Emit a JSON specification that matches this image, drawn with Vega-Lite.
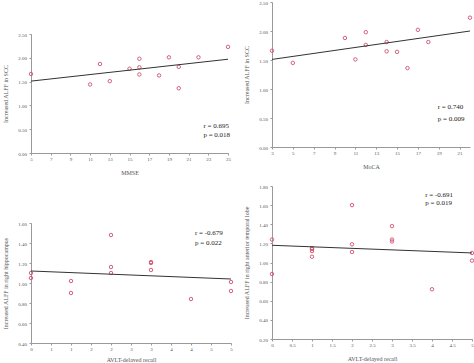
{
  "$schema": "https://vega.github.io/schema/vega-lite/v6.json",
  "padding": {"left": 2, "top": 0, "right": 0, "bottom": 0},
  "background": "white",
  "config": {
    "view": {"stroke": null},
    "font": "Liberation Serif",
    "axis": {
      "grid": false,
      "domainColor": "#999999",
      "tickColor": "#999999",
      "tickSize": 2,
      "tickCount": 40,
      "labelFont": "Liberation Serif",
      "titleFont": "Liberation Serif",
      "labelFontSize": 5,
      "titleFontSize": 6,
      "titleFontWeight": "normal",
      "labelColor": "#555555",
      "titleColor": "#555555",
      "labelOverlap": false,
      "labelFlush": false
    },
    "axisX": {"labelPadding": 1, "titlePadding": 8},
    "axisY": {"labelPadding": 2.5, "titlePadding": 9, "format": ".2f"},
    "concat": {"spacing": 8}
  },
  "datasets": {
    "spacer": [{"s": 0}],
    "mmse": [
      {"x": 5, "y": 1.66}, {"x": 11, "y": 1.44}, {"x": 12, "y": 1.87}, {"x": 13, "y": 1.51},
      {"x": 15, "y": 1.77}, {"x": 16, "y": 1.98}, {"x": 16, "y": 1.80}, {"x": 16, "y": 1.65},
      {"x": 18, "y": 1.63}, {"x": 19, "y": 2.01}, {"x": 20, "y": 1.81}, {"x": 20, "y": 1.36},
      {"x": 22, "y": 2.01}, {"x": 25, "y": 2.23}
    ],
    "mmse_fit": [{"x": 5, "y": 1.51}, {"x": 25, "y": 1.97}],
    "mmse_text": [{"x": 22.5, "y": 0.57, "label": "r = 0.695"}, {"x": 22.5, "y": 0.37, "label": "p = 0.018"}],
    "moca": [
      {"x": 3, "y": 1.66}, {"x": 5, "y": 1.45}, {"x": 10, "y": 1.88}, {"x": 11, "y": 1.51},
      {"x": 12, "y": 1.98}, {"x": 12, "y": 1.76}, {"x": 14, "y": 1.81}, {"x": 14, "y": 1.65},
      {"x": 15, "y": 1.64}, {"x": 16, "y": 1.36}, {"x": 17, "y": 2.02}, {"x": 18, "y": 1.81},
      {"x": 22, "y": 2.23}
    ],
    "moca_fit": [{"x": 3, "y": 1.51}, {"x": 22, "y": 2.0}],
    "moca_text": [{"x": 18.9, "y": 0.69, "label": "r = 0.740"}, {"x": 18.9, "y": 0.49, "label": "p = 0.009"}],
    "hip": [
      {"x": 0, "y": 1.10}, {"x": 0, "y": 1.05}, {"x": 1, "y": 1.02}, {"x": 1, "y": 0.90},
      {"x": 2, "y": 1.48}, {"x": 2, "y": 1.16}, {"x": 2, "y": 1.10}, {"x": 3, "y": 1.20},
      {"x": 3, "y": 1.21}, {"x": 3, "y": 1.13}, {"x": 4, "y": 0.84}, {"x": 5, "y": 1.01},
      {"x": 5, "y": 0.92}
    ],
    "hip_fit": [{"x": 0, "y": 1.12}, {"x": 5, "y": 1.04}],
    "hip_text": [{"x": 4.1, "y": 1.50, "label": "r = -0.679"}, {"x": 4.1, "y": 1.40, "label": "p = 0.022"}],
    "atl": [
      {"x": 0, "y": 1.24}, {"x": 0, "y": 0.88}, {"x": 1, "y": 1.15}, {"x": 1, "y": 1.14},
      {"x": 1, "y": 1.12}, {"x": 1, "y": 1.06}, {"x": 2, "y": 1.60}, {"x": 2, "y": 1.19},
      {"x": 2, "y": 1.11}, {"x": 3, "y": 1.38}, {"x": 3, "y": 1.24}, {"x": 3, "y": 1.22},
      {"x": 4, "y": 0.72}, {"x": 5, "y": 1.10}, {"x": 5, "y": 1.02}
    ],
    "atl_fit": [{"x": 0, "y": 1.18}, {"x": 5, "y": 1.10}],
    "atl_text": [{"x": 3.83, "y": 1.705, "label": "r = -0.691"}, {"x": 3.83, "y": 1.62, "label": "p = 0.019"}]
  },
  "hconcat": [
    {
      "spacing": 0,
      "vconcat": [
        {
          "width": 10,
          "height": 30,
          "data": {"name": "spacer"},
          "mark": {"type": "point", "opacity": 0},
          "encoding": {}
        },
        {
          "spacing": 46,
          "vconcat": [
            {
              "width": 197,
              "height": 119,
              "layer": [
                {
                  "data": {"name": "mmse"},
                  "mark": {"type": "point", "shape": "circle", "filled": false, "size": 12, "strokeWidth": 0.9, "color": "#d0506e", "opacity": 1},
                  "encoding": {
                    "x": {"field": "x", "type": "quantitative", "scale": {"domain": [5, 25], "nice": false, "zero": false}, "axis": {"title": "MMSE", "values": [5, 7, 9, 11, 13, 15, 17, 19, 21, 23, 25], "format": "d", "labelOverlap": false, "tickCount": 40}},
                    "y": {"field": "y", "type": "quantitative", "scale": {"domain": [0, 2.5], "nice": false}, "axis": {"title": "Increased ALFF in SCC", "values": [0, 0.5, 1, 1.5, 2, 2.5], "labelOverlap": false, "tickCount": 40}}
                  }
                },
                {
                  "data": {"name": "mmse_fit"},
                  "mark": {"type": "line", "color": "#333333", "strokeWidth": 1},
                  "encoding": {"x": {"field": "x", "type": "quantitative"}, "y": {"field": "y", "type": "quantitative"}}
                },
                {
                  "data": {"name": "mmse_text"},
                  "mark": {"type": "text", "align": "left", "baseline": "middle", "fontSize": 7, "font": "Liberation Serif", "color": "#222222"},
                  "encoding": {"x": {"field": "x", "type": "quantitative"}, "y": {"field": "y", "type": "quantitative"}, "text": {"field": "label"}}
                }
              ]
            },
            {
              "width": 200,
              "height": 120,
              "layer": [
                {
                  "data": {"name": "hip"},
                  "mark": {"type": "point", "shape": "circle", "filled": false, "size": 12, "strokeWidth": 0.9, "color": "#d0506e", "opacity": 1},
                  "encoding": {
                    "x": {"field": "x", "type": "quantitative", "scale": {"domain": [0, 5], "nice": false}, "axis": {"title": "AVLT-delayed recall", "titlePadding": 5, "values": [0, 0.5, 1, 1.5, 2, 2.5, 3, 3.5, 4, 4.5, 5], "labelExpr": "format(round(datum.value), 'd')", "labelOverlap": false, "tickCount": 40}},
                    "y": {"field": "y", "type": "quantitative", "scale": {"domain": [0.4, 1.6], "nice": false, "zero": false}, "axis": {"title": "Increased ALFF in right hippocampus", "values": [0.4, 0.6, 0.8, 1.0, 1.2, 1.4, 1.6], "labelOverlap": false, "tickCount": 40}}
                  }
                },
                {
                  "data": {"name": "hip_fit"},
                  "mark": {"type": "line", "color": "#333333", "strokeWidth": 1},
                  "encoding": {"x": {"field": "x", "type": "quantitative"}, "y": {"field": "y", "type": "quantitative"}}
                },
                {
                  "data": {"name": "hip_text"},
                  "mark": {"type": "text", "align": "left", "baseline": "middle", "fontSize": 7, "font": "Liberation Serif", "color": "#222222"},
                  "encoding": {"x": {"field": "x", "type": "quantitative"}, "y": {"field": "y", "type": "quantitative"}, "text": {"field": "label"}}
                }
              ]
            }
          ]
        }
      ]
    },
    {
      "spacing": 15,
      "vconcat": [
        {
          "width": 198,
          "height": 145,
          "layer": [
            {
              "data": {"name": "moca"},
              "mark": {"type": "point", "shape": "circle", "filled": false, "size": 12, "strokeWidth": 0.9, "color": "#d0506e", "opacity": 1},
              "encoding": {
                "x": {"field": "x", "type": "quantitative", "scale": {"domain": [3, 22], "nice": false, "zero": false}, "axis": {"title": "MoCA", "values": [3, 5, 7, 9, 11, 13, 15, 17, 19, 21], "format": "d", "labelOverlap": false, "tickCount": 40}},
                "y": {"field": "y", "type": "quantitative", "scale": {"domain": [0, 2.5], "nice": false}, "axis": {"title": "Increased ALFF in SCC", "values": [0, 0.5, 1, 1.5, 2, 2.5], "labelOverlap": false, "tickCount": 40}}
              }
            },
            {
              "data": {"name": "moca_fit"},
              "mark": {"type": "line", "color": "#333333", "strokeWidth": 1},
              "encoding": {"x": {"field": "x", "type": "quantitative"}, "y": {"field": "y", "type": "quantitative"}}
            },
            {
              "data": {"name": "moca_text"},
              "mark": {"type": "text", "align": "left", "baseline": "middle", "fontSize": 7, "font": "Liberation Serif", "color": "#222222"},
              "encoding": {"x": {"field": "x", "type": "quantitative"}, "y": {"field": "y", "type": "quantitative"}, "text": {"field": "label"}}
            }
          ]
        },
        {
          "width": 200,
          "height": 153,
          "layer": [
            {
              "data": {"name": "atl"},
              "mark": {"type": "point", "shape": "circle", "filled": false, "size": 12, "strokeWidth": 0.9, "color": "#d0506e", "opacity": 1},
              "encoding": {
                "x": {"field": "x", "type": "quantitative", "scale": {"domain": [0, 5], "nice": false}, "axis": {"title": "AVLT-delayed recall", "values": [0, 0.5, 1, 1.5, 2, 2.5, 3, 3.5, 4, 4.5, 5], "format": "~g", "labelOverlap": false, "tickCount": 40}},
                "y": {"field": "y", "type": "quantitative", "scale": {"domain": [0.2, 1.8], "nice": false, "zero": false}, "axis": {"title": "Increased ALFF in right anterior temporal lobe", "values": [0.2, 0.4, 0.6, 0.8, 1.0, 1.2, 1.4, 1.6, 1.8], "labelOverlap": false, "tickCount": 40}}
              }
            },
            {
              "data": {"name": "atl_fit"},
              "mark": {"type": "line", "color": "#333333", "strokeWidth": 1},
              "encoding": {"x": {"field": "x", "type": "quantitative"}, "y": {"field": "y", "type": "quantitative"}}
            },
            {
              "data": {"name": "atl_text"},
              "mark": {"type": "text", "align": "left", "baseline": "middle", "fontSize": 7, "font": "Liberation Serif", "color": "#222222"},
              "encoding": {"x": {"field": "x", "type": "quantitative"}, "y": {"field": "y", "type": "quantitative"}, "text": {"field": "label"}}
            }
          ]
        }
      ]
    }
  ]
}
